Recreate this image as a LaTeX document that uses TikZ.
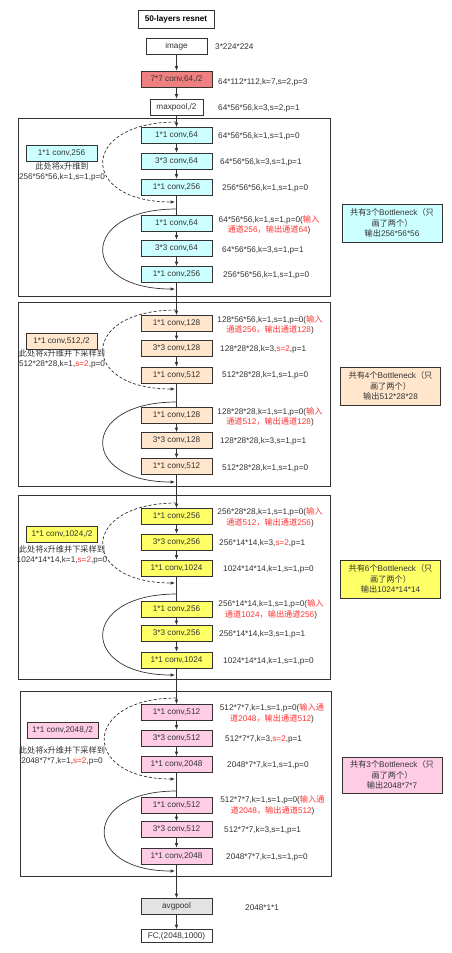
\documentclass[tikz,border=0pt]{standalone}
\usepackage{fontspec}
\setmainfont{Liberation Sans}
\newfontfamily\cjkfont{Noto Sans CJK SC}
\usetikzlibrary{arrows.meta}
\definecolor{bordc}{HTML}{333333}
\definecolor{txtc}{HTML}{333333}
\definecolor{redt}{HTML}{FF3333}
\definecolor{cyanf}{HTML}{CCFFFF}
\definecolor{peachf}{HTML}{FFE6CC}
\definecolor{yellowf}{HTML}{FFFF66}
\definecolor{pinkf}{HTML}{FFCCE6}
\definecolor{redf}{HTML}{F08080}
\definecolor{grayf}{HTML}{E3E3E3}
\newcommand\zhtxt[1]{{\cjkfont #1}}
\newcommand\redtxt[1]{\textcolor{redt}{#1}}
\begin{document}
\begin{tikzpicture}[x=1pt,y=-1pt,
  font=\fontsize{8.2}{10.5}\selectfont,
  blk/.style={draw=bordc, line width=0.6pt, minimum width=71pt, minimum height=16pt, inner sep=0pt, text=txtc},
  lab/.style={anchor=west, inner sep=0pt, text=txtc},
  lab2/.style={align=center, inner sep=0pt, text=txtc},
  sidebox/.style={draw=bordc, line width=0.6pt, minimum width=100pt, minimum height=38pt, inner sep=0pt, align=center, text=txtc},
  arr/.style={draw=bordc, line width=0.7pt, -{Latex[length=4.5pt,width=3.6pt]}},
  ln/.style={draw=bordc, line width=0.7pt},
  skipd/.style={arr, dash pattern=on 3pt off 2pt},
  cont/.style={draw=bordc, line width=0.7pt, fill=white}
]
\useasboundingbox (0,0) rectangle (452,953);
\fill[white] (0,0) rectangle (452,953);

% containers
\draw[cont] (18,118) rectangle (330,296);
\draw[cont] (18,302) rectangle (330,486);
\draw[cont] (18,495) rectangle (330,679);
\draw[cont] (20,691) rectangle (331,876);

% top
\node[draw=bordc, line width=0.7pt, minimum width=76pt, minimum height=18pt, inner sep=0pt, font=\fontsize{8.2}{10}\selectfont\bfseries] (title) at (176,19) {50-layers resnet};
\node[blk, minimum width=61pt] (img) at (176.5,46.5) {image};
\node[blk, fill=redf] (c7) at (176.5,79) {7*7 conv,64,/2};
\node[blk, minimum width=53pt] (mp) at (176.5,107) {maxpool,/2};
\node[lab] (limg) at (215,47) {3*224*224};
\node[lab] (lc7) at (218,82) {64*112*112,k=7,s=2,p=3};
\node[lab] (lmp) at (218,108) {64*56*56,k=3,s=2,p=1};

% stage 1
\node[blk, fill=cyanf] (a1) at (176.5,135.5) {1*1 conv,64};
\node[blk, fill=cyanf] (a2) at (176.5,161) {3*3 conv,64};
\node[blk, fill=cyanf] (a3) at (176.5,187) {1*1 conv,256};
\node[blk, fill=cyanf] (a4) at (176.5,223) {1*1 conv,64};
\node[blk, fill=cyanf] (a5) at (176.5,248) {3*3 conv,64};
\node[blk, fill=cyanf] (a6) at (176.5,274.5) {1*1 conv,256};
\node[blk, fill=cyanf] (as) at (61.5,153) {1*1 conv,256};
\node[lab2] (ast) at (62,172) {\zhtxt{此处将}x\zhtxt{升维到}\\256*56*56,k=1,s=1,p=0};
\node[lab] (la1) at (218,136) {64*56*56,k=1,s=1,p=0};
\node[lab] (la2) at (220,162) {64*56*56,k=3,s=1,p=1};
\node[lab] (la3) at (222,188) {256*56*56,k=1,s=1,p=0};
\node[lab2] (la4) at (269,225) {64*56*56,k=1,s=1,p=0(\redtxt{\zhtxt{输入}}\\\redtxt{\zhtxt{通道}256\zhtxt{，输出通道}64})};
\node[lab] (la5) at (222,250) {64*56*56,k=3,s=1,p=1};
\node[lab] (la6) at (223,275) {256*56*56,k=1,s=1,p=0};
\node[sidebox, fill=cyanf] (ab) at (392,223) {\zhtxt{共有}3\zhtxt{个}Bottleneck\zhtxt{（只}\\\zhtxt{画了两个）}\\\zhtxt{输出}256*56*56};

% stage 2
\node[blk, fill=peachf] (b1) at (176.5,323.5) {1*1 conv,128};
\node[blk, fill=peachf] (b2) at (176.5,348.5) {3*3 conv,128};
\node[blk, fill=peachf] (b3) at (176.5,375) {1*1 conv,512};
\node[blk, fill=peachf] (b4) at (176.5,415.5) {1*1 conv,128};
\node[blk, fill=peachf] (b5) at (176.5,440.5) {3*3 conv,128};
\node[blk, fill=peachf] (b6) at (176.5,466.5) {1*1 conv,512};
\node[blk, fill=peachf] (bs) at (61.5,341) {1*1 conv,512,/2};
\node[lab2] (bst) at (62,359) {\zhtxt{此处将}x\zhtxt{升维并下采样到}\\512*28*28,k=1,\redtxt{s=2},p=0};
\node[lab2] (lb1) at (270,325) {128*56*56,k=1,s=1,p=0(\redtxt{\zhtxt{输入}}\\\redtxt{\zhtxt{通道}256\zhtxt{，输出通道}128})};
\node[lab] (lb2) at (220,349) {128*28*28,k=3,\redtxt{s=2},p=1};
\node[lab] (lb3) at (222,375) {512*28*28,k=1,s=1,p=0};
\node[lab2] (lb4) at (270,417) {128*28*28,k=1,s=1,p=0(\redtxt{\zhtxt{输入}}\\\redtxt{\zhtxt{通道}512\zhtxt{，输出通道}128})};
\node[lab] (lb5) at (220,441) {128*28*28,k=3,s=1,p=1};
\node[lab] (lb6) at (222,468) {512*28*28,k=1,s=1,p=0};
\node[sidebox, fill=peachf] (bb) at (390.5,386) {\zhtxt{共有}4\zhtxt{个}Bottleneck\zhtxt{（只}\\\zhtxt{画了两个）}\\\zhtxt{输出}512*28*28};

% stage 3
\node[blk, fill=yellowf] (c1) at (176.5,516.5) {1*1 conv,256};
\node[blk, fill=yellowf] (c2) at (176.5,542) {3*3 conv,256};
\node[blk, fill=yellowf] (c3) at (176.5,568) {1*1 conv,1024};
\node[blk, fill=yellowf] (c4) at (176.5,609) {1*1 conv,256};
\node[blk, fill=yellowf] (c5) at (176.5,633.5) {3*3 conv,256};
\node[blk, fill=yellowf] (c6) at (176.5,660) {1*1 conv,1024};
\node[blk, fill=yellowf] (cs) at (62,534.5) {1*1 conv,1024,/2};
\node[lab2] (cst) at (62,555) {\zhtxt{此处将}x\zhtxt{升维并下采样到}\\1024*14*14,k=1,\redtxt{s=2},p=0};
\node[lab2] (lc1) at (270,517.5) {256*28*28,k=1,s=1,p=0(\redtxt{\zhtxt{输入}}\\\redtxt{\zhtxt{通道}512\zhtxt{，输出通道}256})};
\node[lab] (lc2) at (219,543) {256*14*14,k=3,\redtxt{s=2},p=1};
\node[lab] (lc3) at (223,569) {1024*14*14,k=1,s=1,p=0};
\node[lab2] (lc4) at (271,609.5) {256*14*14,k=1,s=1,p=0(\redtxt{\zhtxt{输入}}\\\redtxt{\zhtxt{通道}1024\zhtxt{，输出通道}256})};
\node[lab] (lc5) at (219,634) {256*14*14,k=3,s=1,p=1};
\node[lab] (lc6) at (223,661) {1024*14*14,k=1,s=1,p=0};
\node[sidebox, fill=yellowf] (cb) at (390.5,579) {\zhtxt{共有}6\zhtxt{个}Bottleneck\zhtxt{（只}\\\zhtxt{画了两个）}\\\zhtxt{输出}1024*14*14};

% stage 4
\node[blk, fill=pinkf] (d1) at (176.5,712.5) {1*1 conv,512};
\node[blk, fill=pinkf] (d2) at (176.5,738) {3*3 conv,512};
\node[blk, fill=pinkf] (d3) at (176.5,764.5) {1*1 conv,2048};
\node[blk, fill=pinkf] (d4) at (176.5,805) {1*1 conv,512};
\node[blk, fill=pinkf] (d5) at (176.5,829.5) {3*3 conv,512};
\node[blk, fill=pinkf] (d6) at (176.5,856) {1*1 conv,2048};
\node[blk, fill=pinkf] (ds) at (62.5,730) {1*1 conv,2048,/2};
\node[lab2] (dst) at (62,756) {\zhtxt{此处将}x\zhtxt{升维并下采样到}\\2048*7*7,k=1,\redtxt{s=2},p=0};
\node[lab2] (ld1) at (272,713.5) {512*7*7,k=1,s=1,p=0(\redtxt{\zhtxt{输入通}}\\\redtxt{\zhtxt{道}2048\zhtxt{，输出通道}512})};
\node[lab] (ld2) at (225,739) {512*7*7,k=3,\redtxt{s=2},p=1};
\node[lab] (ld3) at (227,765) {2048*7*7,k=1,s=1,p=0};
\node[lab2] (ld4) at (272.5,805.5) {512*7*7,k=1,s=1,p=0(\redtxt{\zhtxt{输入通}}\\\redtxt{\zhtxt{道}2048\zhtxt{，输出通道}512})};
\node[lab] (ld5) at (224,830) {512*7*7,k=3,s=1,p=1};
\node[lab] (ld6) at (226,857) {2048*7*7,k=1,s=1,p=0};
\node[sidebox, fill=pinkf, minimum height=36pt] (db) at (392,775) {\zhtxt{共有}3\zhtxt{个}Bottleneck\zhtxt{（只}\\\zhtxt{画了两个）}\\\zhtxt{输出}2048*7*7};

% bottom
\node[blk, fill=grayf] (avg) at (176.5,906.5) {avgpool};
\node[blk, minimum height=13pt] (fc) at (176.5,936) {FC,(2048,1000)};
\node[lab] (lavg) at (245,908) {2048*1*1};

% main flow
\draw[arr] (img) -- (c7);
\draw[arr] (c7) -- (mp);
\draw[arr] (mp) -- (a1);
\draw[arr] (a1) -- (a2);
\draw[arr] (a2) -- (a3);
\draw[ln] (a3) -- (a4);
\draw[arr] (a4) -- (a5);
\draw[arr] (a5) -- (a6);
\draw[arr] (a6) -- (b1);
\draw[arr] (b1) -- (b2);
\draw[arr] (b2) -- (b3);
\draw[ln] (b3) -- (b4);
\draw[arr] (b4) -- (b5);
\draw[arr] (b5) -- (b6);
\draw[arr] (b6) -- (c1);
\draw[arr] (c1) -- (c2);
\draw[arr] (c2) -- (c3);
\draw[ln] (c3) -- (c4);
\draw[arr] (c4) -- (c5);
\draw[arr] (c5) -- (c6);
\draw[arr] (c6) -- (d1);
\draw[arr] (d1) -- (d2);
\draw[arr] (d2) -- (d3);
\draw[ln] (d3) -- (d4);
\draw[arr] (d4) -- (d5);
\draw[arr] (d5) -- (d6);
\draw[arr] (d6) -- (avg);
\draw[arr] (avg) -- (fc);

% skip connections
\coordinate (sa1) at (176.5,122); \coordinate (ea1) at (175,202);
\coordinate (sa2) at (176.5,209); \coordinate (ea2) at (175,289);
\coordinate (sb1) at (176.5,310); \coordinate (eb1) at (175,389);
\coordinate (sb2) at (176.5,402); \coordinate (eb2) at (175,482);
\coordinate (sc1) at (176.5,503); \coordinate (ec1) at (175,583);
\coordinate (sc2) at (176.5,594); \coordinate (ec2) at (175,675);
\coordinate (sd1) at (176.5,698); \coordinate (ed1) at (175,779);
\coordinate (sd2) at (176.5,791); \coordinate (ed2) at (175,871);
\draw[skipd] (sa1) .. controls (79,122) and (79,202) .. (ea1);
\draw[arr] (sa2) .. controls (79,209) and (79,289) .. (ea2);
\draw[skipd] (sb1) .. controls (79,310) and (79,389) .. (eb1);
\draw[arr] (sb2) .. controls (79,402) and (79,482) .. (eb2);
\draw[skipd] (sc1) .. controls (79,503) and (79,583) .. (ec1);
\draw[arr] (sc2) .. controls (79,594) and (79,675) .. (ec2);
\draw[skipd] (sd1) .. controls (81,698) and (81,779) .. (ed1);
\draw[arr] (sd2) .. controls (81,791) and (81,871) .. (ed2);
\end{tikzpicture}
\end{document}
